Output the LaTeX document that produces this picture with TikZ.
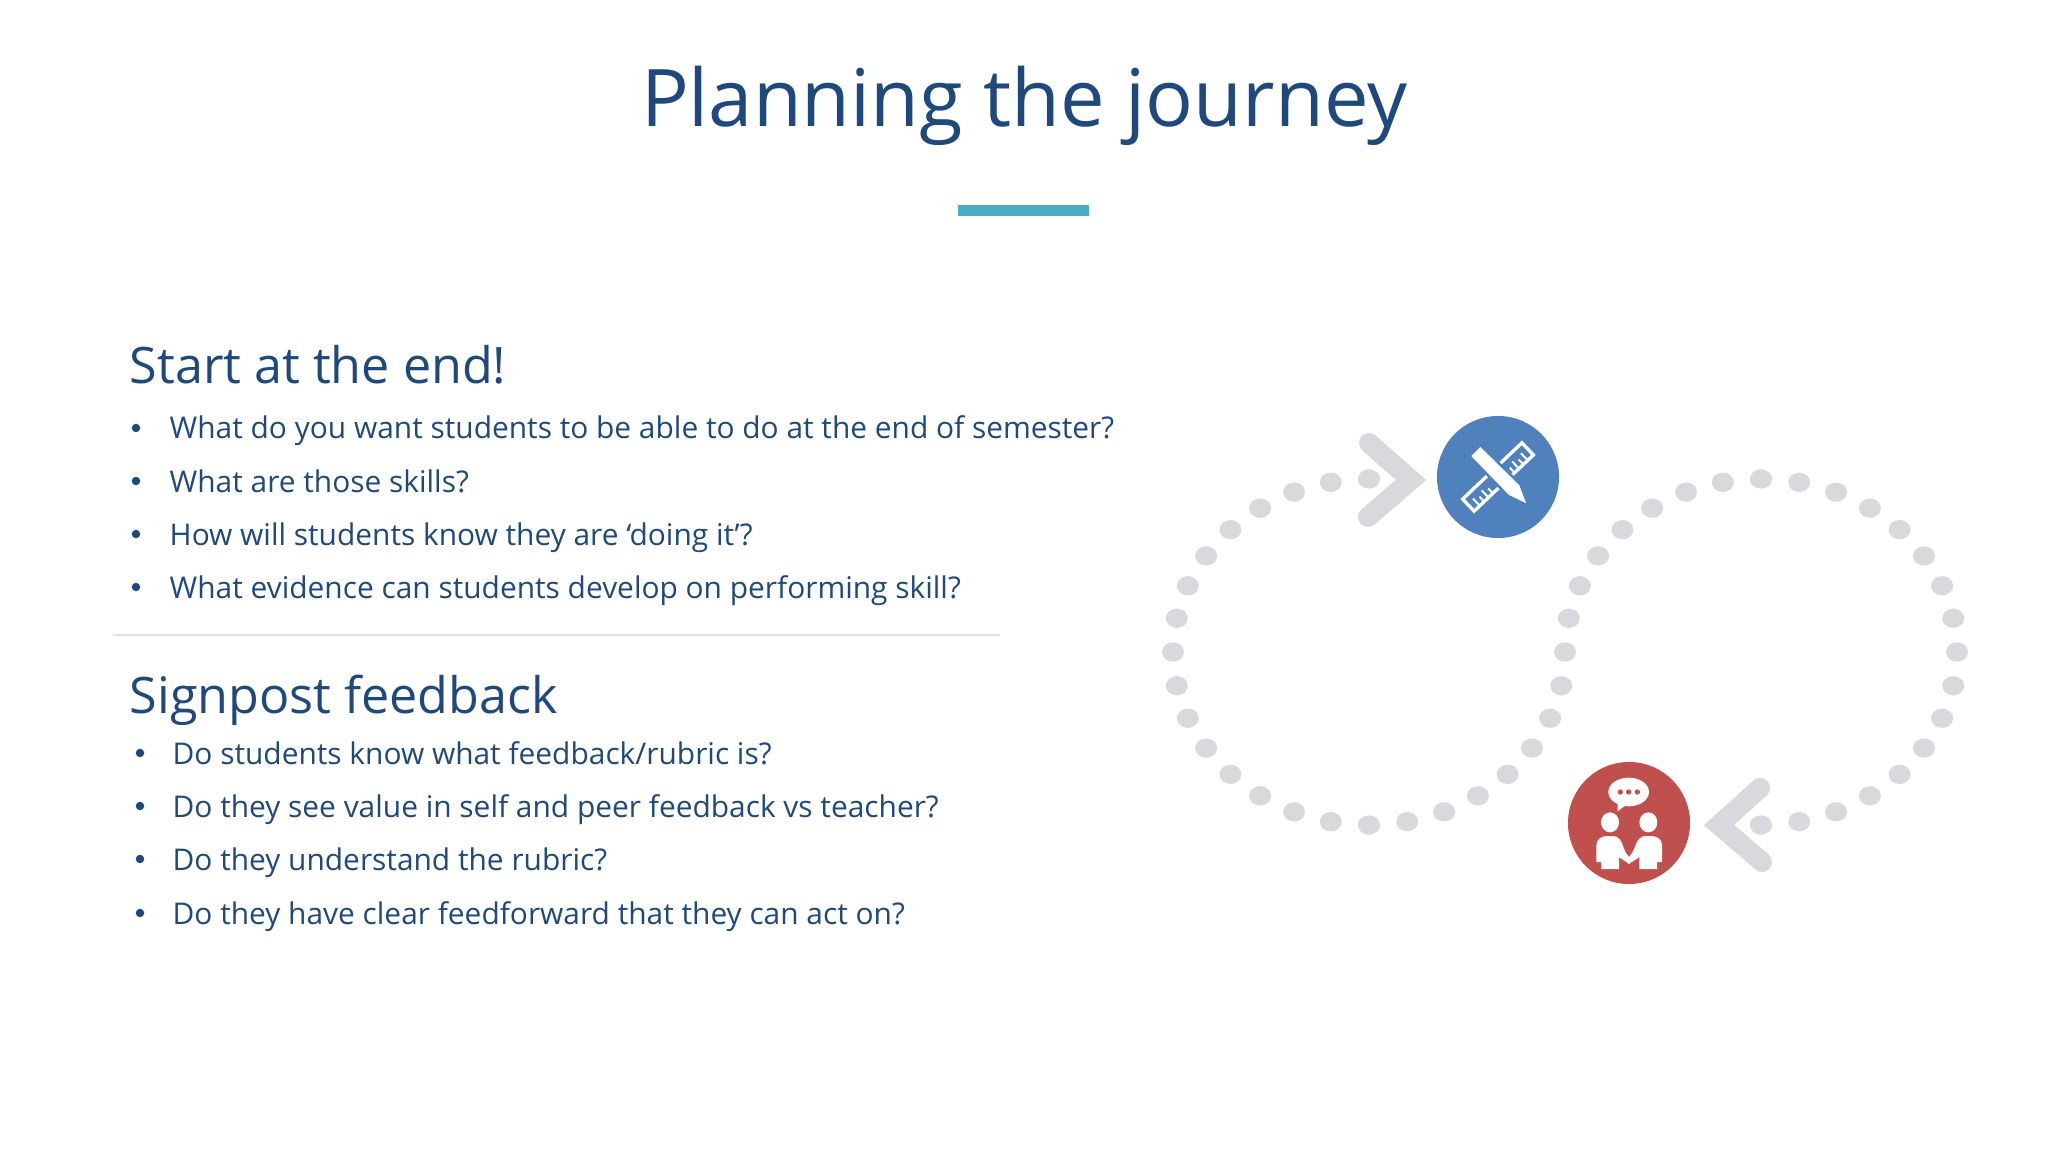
\documentclass[tikz,border=0pt]{standalone}
\usepackage{fontspec}
\setmainfont{Open Sans}
\usetikzlibrary{positioning}
\definecolor{navy_t}{HTML}{1F497D}
\definecolor{teal_b}{HTML}{4BACC6}
\definecolor{grey_d}{HTML}{D9D8DC}
\definecolor{grey_l}{HTML}{E2E2E2}
\definecolor{blue_c}{HTML}{4F81BD}
\definecolor{red_c}{HTML}{C0504D}
\tikzstyle{head_t} = [navy_t, font=\fontsize{14.3pt}{16pt}\selectfont, anchor=base west, inner sep=0pt]
\tikzstyle{list_t} = [navy_t, font=\fontsize{8.5pt}{10pt}\selectfont, anchor=base west, inner sep=0pt]
\tikzstyle{list_b} = [circle, fill=navy_t, minimum size=8.5*0.2845pt, inner sep=0pt]
\tikzstyle{chev_l} = [grey_d, line width=20*0.2845pt, line cap=round, miter limit=10]
\tikzstyle{icon_c} = [circle, minimum size=122*0.2845pt, inner sep=0pt]

\begin{document}
\begin{tikzpicture}[x=0.01cm,y=-0.01cm]
\useasboundingbox (0,0) rectangle (2048,1152);
\node [navy_t, font=\fontsize{22.6pt}{28pt}\selectfont, anchor=base, inner sep=0pt] (title) at (1024,127) {Planning the journey};
\fill [teal_b] (958,205) rectangle (1089,216);

\node [head_t] (head_a) at (129,384) {Start at the end!};
\foreach \n/\y/\txt in {1/439/{What do you want students to be able to do at the end of semester?},
    2/492/{What are those skills?},
    3/545/{How will students know they are ‘doing it’?},
    4/598/{What evidence can students develop on performing skill?}} {
    \node [list_b] (bul_a\n) at (136,\y-11) {};
    \node [list_t] (item_a\n) at (169,\y) {\txt};
}
\draw [grey_l, line width=0.7pt] (113,635) -- (1000,635);
\node [head_t] (head_b) at (129,713) {Signpost feedback};
\foreach \n/\y/\txt in {1/764/{Do students know what feedback/rubric is?},
    2/817/{Do they see value in self and peer feedback vs teacher?},
    3/870/{Do they understand the rubric?},
    4/924/{Do they have clear feedforward that they can act on?}} {
    \node [list_b] (bul_b\n) at (140,\y-11) {};
    \node [list_t] (item_b\n) at (172,\y) {\txt};
}

% dotted loops
\foreach \k in {0,...,24} {
    \fill [grey_d] ({1369+196*cos(90+11.25*\k)},{652-173*sin(90+11.25*\k)}) ellipse (11 and 9.7);
}
\foreach \k in {1,...,24} {
    \fill [grey_d] ({1761+196*cos(180-11.25*\k)},{652-173*sin(180-11.25*\k)}) ellipse (11 and 9.7);
}
\draw [chev_l] (1369,443) -- (1411,480) -- (1368,517);
\draw [chev_l] (1760,788) -- (1719,825) -- (1762,862);

\node [icon_c, fill=blue_c] (plan) at (1498,477) {};
\node [icon_c, fill=red_c] (talk) at (1629,823) {};

% ruler and pencil
\begin{scope}[shift={(1498,477)}, rotate=43.5]
    \fill [white] (-42.5,-10) rectangle (42.5,10);
    \fill [blue_c] (-39,-6.5) rectangle (39,6.5);
    \foreach \tx/\tl in {-33/8,-27/5,-21/8,-15/5,15/5,21/8,27/5,33/8} {
        \fill [white] (\tx-1,6.5) rectangle (\tx+1,6.5-\tl);
    }
\end{scope}
\begin{scope}[shift={(1498,477)}]
    \filldraw [white, draw=blue_c, line width=0.7pt] (-17.7,-32) -- (-28.7,-21) -- (10,19) -- (30.7,29) -- (22.3,7.3) -- cycle;
\end{scope}

% speech bubble and two people
\begin{scope}[shift={(1568,762)}, x=0.01cm/3, y=-0.01cm/3]
    \fill [white] (182,90) ellipse (61 and 43);
    \fill [white] (150,115) -- (148,148) -- (180,125) -- cycle;
    \foreach \dx in {157,182,208} {
        \fill [red_c] (\dx,90) circle (8);
    }
    \fill [white] (126,181) ellipse (27 and 30);
    \fill [white] (241,181) ellipse (27 and 30);
    \fill [white] (85,300) -- (85,250) .. controls (85,232) and (100,222) .. (118,222) -- (135,222)
        .. controls (150,222) and (160,235) .. (165,252) -- (172,270) -- (183,285) -- (194,270) -- (202,252)
        .. controls (207,235) and (217,222) .. (232,222) -- (250,222)
        .. controls (267,222) and (282,232) .. (282,250) -- (282,300) -- (267,300) -- (267,321) -- (214,321)
        -- (214,285) -- (183,306) -- (153,285) -- (153,321) -- (100,321) -- (100,300) -- cycle;
\end{scope}
\end{tikzpicture}
\end{document}
